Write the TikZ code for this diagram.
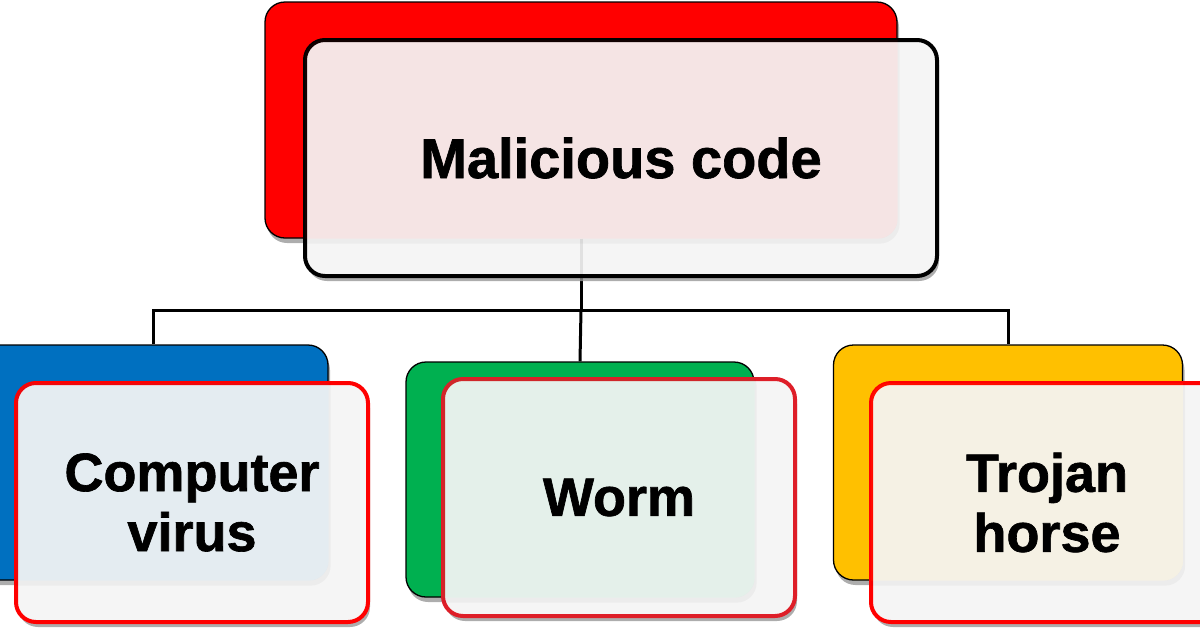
\documentclass[tikz,border=0pt]{standalone}
\usepackage{fontspec}
\setmainfont{Liberation Sans}[BoldFeatures={FakeBold=1.2}]
\usetikzlibrary{shadows}
\definecolor{cblue}{RGB}{0,112,192}
\definecolor{cgreen}{RGB}{0,176,80}
\definecolor{cyellow}{RGB}{255,192,0}
\definecolor{cred}{RGB}{255,0,0}
\definecolor{wormred}{RGB}{222,30,40}
\definecolor{frontfill}{RGB}{245,245,245}
\newcommand{\tintover}[3]{% front node, back node, colour
  \begin{scope}
    \clip[rounded corners=18pt] ([shift={(2,2)}]#1.north west) rectangle ([shift={(-2,-2)}]#1.south east);
    \fill[black, opacity=0.035, even odd rule, rounded corners=20pt]
      ([shift={(2,5)}]#2.north west) rectangle ([shift={(2,5)}]#2.south east)
      (#2.north west) rectangle (#2.south east);
    \fill[#3, opacity=0.065, rounded corners=20pt] (#2.north west) rectangle (#2.south east);
  \end{scope}}
\begin{document}
\begin{tikzpicture}[x=1pt,y=-1pt,
  backbox/.style={draw=black, line width=1.3pt, rounded corners=20pt, inner sep=0pt,
    drop shadow={shadow xshift=2pt,shadow yshift=-5pt,fill=black!40,opacity=0.8}},
  frontbox/.style={line width=4pt, rounded corners=20pt, fill=frontfill,
    inner sep=0pt, align=center, text=black,
    drop shadow={shadow xshift=2pt,shadow yshift=-5pt,fill=black!40,opacity=0.8}},
  bigtext/.style={font=\fontsize{56}{62}\selectfont\bfseries},
  midtext/.style={font=\fontsize{54}{60}\selectfont\bfseries},
  conn/.style={line width=3pt, draw=black}]
\useasboundingbox (0,0) rectangle (1200,630);
\clip (0,0) rectangle (1200,630);
% back boxes
\node[backbox, fill=cred, minimum width=632pt, minimum height=236pt] (topback) at (581,120) {};
\node[backbox, fill=cblue, minimum width=350pt, minimum height=235pt] (blueback) at (153,462.5) {};
\node[backbox, fill=cgreen, minimum width=348pt, minimum height=235pt] (greenback) at (580,479.5) {};
\node[backbox, fill=cyellow, minimum width=349pt, minimum height=235pt] (yellowback) at (1008,462.5) {};
% connectors
\coordinate (bar) at (0,310);
\draw[conn] (topback.south) -- (topback.south |- bar);
\draw[conn] (blueback.north) -- (blueback.north |- bar) -- (yellowback.north |- bar) -- (yellowback.north);
\draw[conn] (topback.south |- bar) -- (greenback.north);
% front boxes
\node[frontbox, draw=black, minimum width=632pt, minimum height=236pt] (topfront) at (621,158) {};
\tintover{topfront}{topback}{cred}
\draw[line width=3pt, black, opacity=0.08] (topback.south) -- ([yshift=2pt]topback.south |- topfront.south);
\node[bigtext] (toplabel) at (topfront.center) {Malicious code};
\node[frontbox, draw=cred, minimum width=352pt, minimum height=239pt] (virus) at (192,502.5) {};
\tintover{virus}{blueback}{cblue}
\node[midtext, align=center] (viruslabel) at (virus.center) {Computer\\virus};
\node[frontbox, draw=wormred, minimum width=352pt, minimum height=237pt] (worm) at (619,497.5) {};
\tintover{worm}{greenback}{cgreen}
\node[midtext] (wormlabel) at (worm.center) {Worm};
\node[frontbox, draw=cred, minimum width=352pt, minimum height=239pt] (trojan) at (1047,502.5) {};
\tintover{trojan}{yellowback}{cyellow}
\node[midtext, align=center] (trojanlabel) at (trojan.center) {Trojan\\horse};
\end{tikzpicture}
\end{document}
